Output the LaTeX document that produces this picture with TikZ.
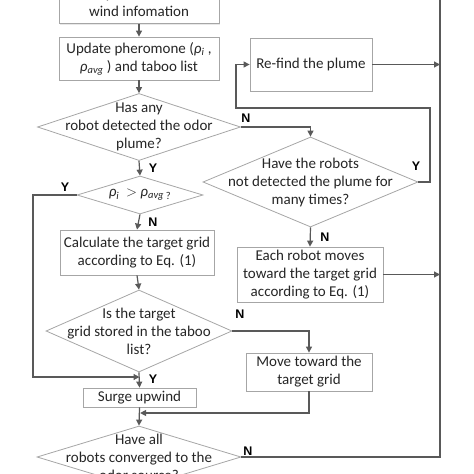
\documentclass[tikz,border=0pt]{standalone}
\usepackage{fontspec}
\setmainfont{Carlito}
\newfontfamily\ynfont{Liberation Sans}
\usetikzlibrary{shapes.geometric,arrows.meta,shadows}
\definecolor{txtc}{HTML}{262626}
\definecolor{lnc}{HTML}{595959}
\definecolor{bdc}{HTML}{A6A6A6}
\newcommand{\rhoi}{\textit{ρ}\textsubscript{\textit{i}}}
\newcommand{\rhoavg}{\textit{ρ}\textsubscript{\textit{avg}}}
\begin{document}
\begin{tikzpicture}[x=1pt,y=-1pt,
  box/.style={draw=bdc, line width=0.8pt, fill=white, text=txtc, align=center,
    inner sep=0pt, font=\fontsize{15}{18}\selectfont,
    drop shadow={opacity=0.18, shadow xshift=1.2pt, shadow yshift=-1.2pt}},
  dia/.style={diamond, draw=bdc, line width=0.8pt, fill=white, inner sep=0pt, aspect=1},
  dtxt/.style={text=txtc, align=center, inner sep=0pt, font=\fontsize{15}{18}\selectfont},
  conn/.style={draw=lnc, line width=1.2pt, -{Triangle[length=6pt,width=6pt]}},
  plain/.style={draw=lnc, line width=1.2pt},
  yn/.style={font=\ynfont\bfseries\fontsize{12.5}{12.5}\selectfont, text=black, inner sep=0pt}]
\useasboundingbox (0,0) rectangle (474,474);
\clip (0,0) rectangle (474,474);

% boxes
\node[box, minimum width=160, minimum height=43] (b0) at (139,2) {Acquire odor and\\wind infomation};
\node[box, minimum width=160, minimum height=43] (b1) at (139,58.5) {Update pheromone (\rhoi\ ,\\\rhoavg\ ) and taboo list};
\node[box, minimum width=154, minimum height=45] (b2) at (137,252.5) {Calculate the target grid\\according to Eq. (1)};
\node[box, minimum width=113, minimum height=19] (surge) at (139.5,397.5) {Surge upwind};
\node[box, minimum width=122, minimum height=53] (refind) at (311,64.5) {Re-find the plume};
\node[box, minimum width=146, minimum height=55] (each) at (310,274.5) {Each robot moves\\toward the target grid\\according to Eq. (1)};
\node[box, minimum width=126, minimum height=38] (move) at (309,372) {Move toward the\\target grid};

% diamonds
\node[dia, minimum width=203, minimum height=67] (d1) at (139,127) {};
\node[dtxt] (d1t) at (d1.center) {Has any\\robot detected the odor\\plume?};
\node[dia, minimum width=126, minimum height=38] (d2) at (140,195) {};
\node[dtxt] (d2t) at (d2.center) {\rhoi\ \ $>$ \rhoavg\textsubscript{\,?}};
\node[dia, minimum width=186, minimum height=82] (d3) at (139,331) {};
\node[dtxt] (d3t) at (d3.center) {Is the target\\grid stored in the taboo\\list?};
\node[dia, minimum width=204, minimum height=62] (d4) at (139,457) {};
\node[dtxt] (d4t) at (d4.center) {Have all\\robots converged to the\\odor source?};
\node[dia, minimum width=215, minimum height=90] (d5) at (310.5,182) {};
\node[dtxt] (d5t) at (d5.center) {Have the robots\\not detected the plume for\\many times?};

% helper coordinates
\coordinate (rt) at (440,-30);
\coordinate (lpA) at (430,108);
\coordinate (lpB) at (236,108);
\coordinate (lY) at (33,377);
\coordinate (mb) at (309,413);

% connectors
\draw[conn] (b0.south) -- (b1.north);
\draw[conn] (b1.south) -- (d1.north);
\draw[conn] (d1.south) -- (d2.north);
\draw[conn] (d1.east) -| (d5.north);
\draw[conn] (d2.south) -- (b2.north);
\draw[conn] (b2.south) -- (d3.north);
\draw[conn] (d3.south) -- (surge.north);
\draw[conn] (d2.west) -| (lY) -- (surge.north |- lY);
\draw[conn] (d3.east) -| (move.north);
\draw[conn] (move.south) -- (mb) -- ([xshift=0.6pt]mb -| surge.south);
\draw[conn] (surge.south) -- (d4.north);
\draw[plain] (d4.east) -- (d4.east -| rt) -- (rt);
\draw[conn] (refind.east) -- (refind.east -| rt);
\draw[conn] (each.east) -- (each.east -| rt);
\draw[conn] (d5.east) -| (lpA) -- (lpB) |- (refind.west);
\draw[conn] (d5.south) -- (each.north);

% labels
\node[yn] (l1) at (153,168) {Y};
\node[yn] (l2) at (246,118) {N};
\node[yn] (l3) at (65,187) {Y};
\node[yn] (l4) at (153,222) {N};
\node[yn] (l5) at (240,314) {N};
\node[yn] (l6) at (153,379) {Y};
\node[yn] (l7) at (248,451) {N};
\node[yn] (l8) at (416,166) {Y};
\node[yn] (l9) at (325,237) {N};
\end{tikzpicture}
\end{document}
